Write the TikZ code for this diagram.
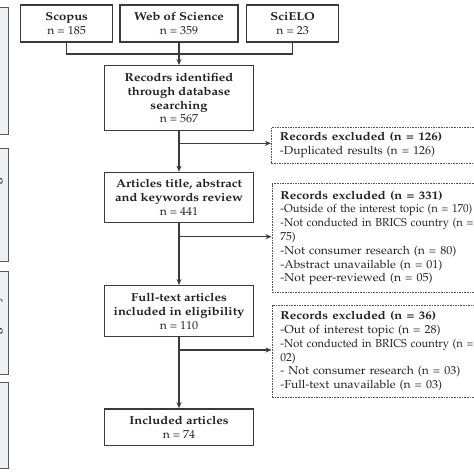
\documentclass[tikz,border=0pt]{standalone}
\usepackage[T1]{fontenc}
\usepackage{mathpazo}
\usepackage{graphicx}
\usetikzlibrary{arrows.meta}
\definecolor{boxgray}{HTML}{3A3A3A}
\definecolor{txtcol}{HTML}{222222}
\definecolor{dashgray}{HTML}{555555}
\definecolor{sidefill}{HTML}{EEF0F2}
\definecolor{sidegray}{HTML}{5A5A5A}
\newcommand\myfs{\fontsize{11.5}{13.8}\selectfont}
\newcommand\bs[1]{\scalebox{1.13}[1]{\bfseries #1}}
\newcommand\rs[1]{\scalebox{1.05}[1]{#1}}
\newcommand\ns[1]{\scalebox{0.965}[1]{#1}}
\begin{document}
\begin{tikzpicture}[x=1pt,y=-1pt,
  mainbox/.style={draw=boxgray, line width=1.4pt, fill=white, inner sep=0pt,
    align=center, font=\myfs, text=txtcol},
  exbox/.style={draw=dashgray, line width=0.8pt, dash pattern=on 1.6pt off 1pt,
    fill=white, inner xsep=8.5pt, inner ysep=0pt, text width=300pt, align=left,
    anchor=north west, font=\myfs, text=txtcol},
  sidebox/.style={draw=sidegray, line width=0.9pt, fill=sidefill, anchor=north east,
    minimum width=40pt, inner sep=0pt},
  sidelabel/.style={rotate=90, anchor=base, font=\myfs\bfseries, text=txtcol, inner sep=0pt},
  conn/.style={draw=boxgray, line width=1.2pt},
  arr/.style={conn, -{Stealth[length=6pt,width=5pt]}}]
\useasboundingbox (0,0) rectangle (474,474);
\clip (0,0) rectangle (474,474);
\fill[white] (0,0) rectangle (474,474);
% side stage boxes (cut off at the left edge)
\node[sidebox, minimum height=127pt] (s1) at (9,7) {};
\node[sidebox, minimum height=113pt] (s2) at (9,148) {};
\node[sidebox, minimum height=103pt] (s3) at (9,271) {};
\node[sidebox, minimum height=86pt] (s4) at (9,382) {};
\node[sidelabel] (l1) at (-0.5,70.5) {Identification};
\node[sidelabel] (l2) at (-0.5,204.5) {Screening};
\node[sidelabel] (l3) at (-0.5,322.5) {Eligibility};
\node[sidelabel] (l4) at (-0.5,425) {Included};
% sources
\node[mainbox, minimum width=92pt, minimum height=37pt] (scopus) at (66.7,23.5) {\bs{Scopus}\\\rs{n = 185}};
\node[mainbox, minimum width=118pt, minimum height=37pt] (wos) at (179,23.5) {\bs{Web of Science}\\\rs{n = 359}};
\node[mainbox, minimum width=92pt, minimum height=37pt] (scielo) at (292.7,23.5) {\bs{SciELO}\\\rs{n = 23}};
% main flow
\node[mainbox, minimum width=149pt, minimum height=65pt] (rec) at (179,98.2) {\bs{Recodrs identified}\\\bs{through database}\\\bs{searching}\\\rs{n = 567}};
\node[mainbox, minimum width=149pt, minimum height=50.4pt] (art) at (179,197.5) {\bs{Articles title, abstract}\\\bs{and keywords review}\\\rs{n = 441}};
\node[mainbox, minimum width=149pt, minimum height=51pt] (full) at (179,311.2) {\bs{Full-text articles}\\\bs{included in eligibility}\\\rs{n = 110}};
\node[mainbox, minimum width=149pt, minimum height=36.7pt] (incl) at (179,427.3) {\bs{Included articles}\\\rs{n = 74}};
% exclusion boxes
\node[exbox, minimum height=36.3pt] (ex1) at (271,126.7) {\bs{Records excluded (n = 126)}\\\rs{-Duplicated results (n = 126)}};
\node[exbox, minimum height=108.4pt] (ex2) at (271.5,183.3) {\bs{Records excluded (n = 331)}\\\ns{-Outside of the interest topic (n = 170)}\\\ns{-Not conducted in BRICS country (n =}\\75)\\\rs{-Not consumer research (n = 80)}\\\rs{-Abstract unavailable (n = 01)}\\\rs{-Not peer-reviewed (n = 05)}};
\node[exbox, minimum height=91.7pt] (ex3) at (271.5,305) {\bs{Records excluded (n = 36)}\\\rs{-Out of interest topic (n = 28)}\\\ns{-Not conducted in BRICS country (n =}\\02)\\\rs{- Not consumer research (n = 03)}\\\rs{-Full-text unavailable (n = 03)}};
% connectors
\coordinate (j0) at (179,54);
\draw[conn] (scopus.south) |- (j0) -| (scielo.south);
\draw[arr] (wos.south) -- (rec.north);
\draw[arr] (rec.south) -- (art.north);
\draw[arr] (art.south) -- (full.north);
\draw[arr] (full.south) -- (incl.north);
\coordinate (b1) at (179,143.3);
\coordinate (b2) at (179,236.7);
\coordinate (b3) at (179,350);
\draw[arr] (b1) -- (b1 -| ex1.west);
\draw[arr] (b2) -- (b2 -| ex2.west);
\draw[arr] (b3) -- (b3 -| ex3.west);
\end{tikzpicture}
\end{document}
